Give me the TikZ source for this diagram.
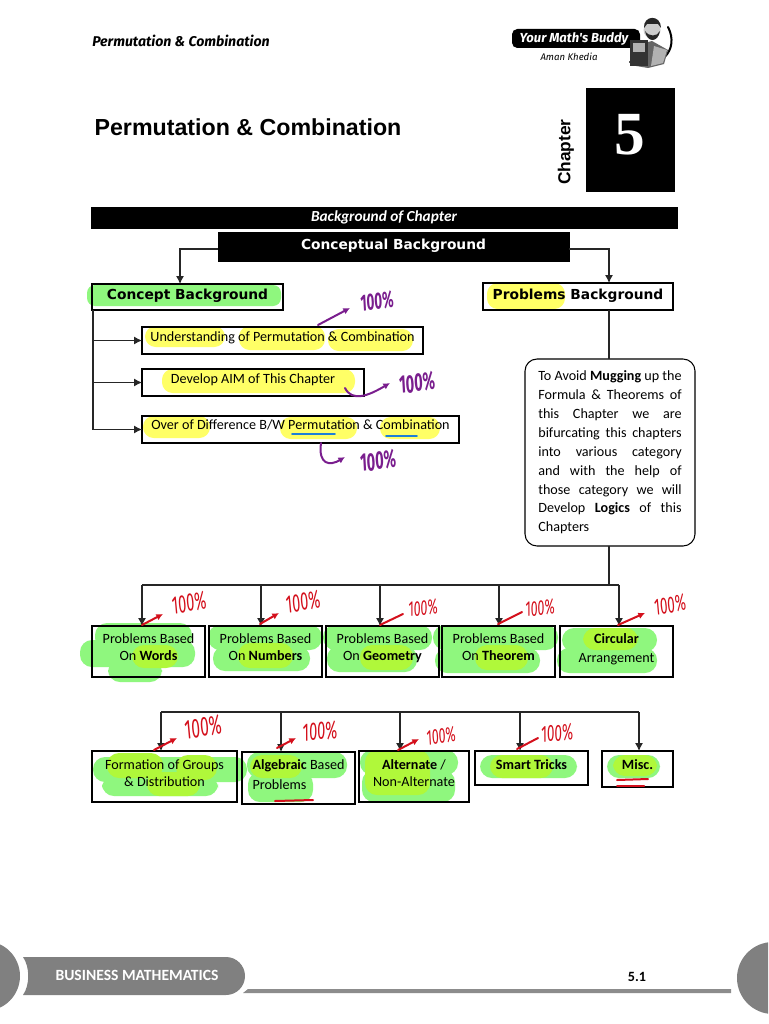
\documentclass[tikz,border=0pt]{standalone}
\usepackage{fontspec}
\usepackage{graphicx}
\setmainfont{Carlito}
\newfontfamily\arialf{Liberation Sans}
\newfontfamily\dejav{DejaVu Sans}
\newfontfamily\timesf{Liberation Serif}
\newfontfamily\handf{Fira Sans}
\usetikzlibrary{arrows.meta}
\definecolor{hlg}{HTML}{8FF77E}
\definecolor{hld}{HTML}{B0F83A}
\definecolor{hly}{HTML}{FFFF66}
\definecolor{pen}{HTML}{7A1E8E}
\definecolor{redp}{HTML}{D4101C}
\definecolor{bluep}{HTML}{1E7FD8}
\definecolor{foot}{HTML}{808080}
\tikzset{
  bx/.style={draw=black,line width=0.8pt,inner sep=0pt,outer sep=0pt,align=center,font=\fontsize{10.6pt}{12.8pt}\selectfont},
  thickbx/.style={line width=1.5pt},
  conn/.style={draw=black!85,line width=0.8pt},
  arr/.style={conn,-{Latex[length=6pt,width=6pt]}},
  redline/.style={draw=redp,line width=1.5pt,line cap=round},
  redarr/.style={redline,-{Latex[length=5pt,width=5pt]}},
  penline/.style={draw=pen,line width=1.5pt,line cap=round},
  penarr/.style={penline,-{Latex[length=5pt,width=5pt]}},
  hand/.style={inner sep=0pt,font=\handf\itshape},
  handb/.style={inner sep=0pt,font=\handf\itshape\bfseries}
}
\newcommand\bxn[7]{\node[bx,#6,minimum width={(#4-#2)*0.75pt},minimum height={(#5-#3)*0.75pt}] (#1) at ({(#2+#4)/2},{(#3+#5)/2}) {#7};}
\newcommand\drop[1]{\rule[-#1pt]{0pt}{0pt}}
\newcommand\blob[6][9pt]{\fill[#6,rounded corners=#1] (#2,#3) rectangle (#4,#5);}
\newcommand\pct[6]{\node[hand,text=#2,rotate=#5] (#1) at (#3,#4) {\fontsize{#6pt}{#6pt}\selectfont\scalebox{0.85}[1.45]{100\%}};}
\newcommand\pctb[6]{\node[handb,text=#2,rotate=#5] (#1) at (#3,#4) {\fontsize{#6pt}{#6pt}\selectfont\scalebox{0.85}[1.45]{100\%}};}
\begin{document}
\begin{tikzpicture}[x=0.75pt,y=-0.75pt]
\useasboundingbox (0,0) rectangle (768,1024);
\clip (0,0) rectangle (768,1024);
\fill[white] (0,0) rectangle (768,1024);

% highlights
\blob[6pt]{87}{285}{281}{306}{hlg}
\blob[8pt]{487}{283}{565}{309}{hly}
\blob[8pt]{145}{326}{225}{347}{hly}
\blob[8pt]{239}{326}{325}{350}{hly}
\blob[8pt]{328}{329}{413}{351}{hly}
\blob[8pt]{162}{369}{355}{393}{hly}
\blob[8pt]{143}{416}{210}{438}{hly}
\blob[8pt]{280}{417}{357}{439}{hly}
\blob[8pt]{380}{417}{440}{439}{hly}
% row 1
\blob{95}{623}{192}{650}{hlg}
\blob{80}{640}{195}{667}{hlg}
\blob{108}{660}{162}{682}{hlg}
\blob{132}{645}{178}{668}{hld}
\blob{208}{625}{322}{650}{hlg}
\blob{213}{646}{310}{671}{hlg}
\blob{238}{643}{293}{668}{hld}
\blob{323}{625}{432}{650}{hlg}
\blob{327}{646}{417}{672}{hlg}
\blob{360}{645}{413}{670}{hld}
\blob{433}{625}{558}{650}{hlg}
\blob{435}{648}{540}{673}{hlg}
\blob{475}{645}{528}{670}{hld}
\blob{562}{628}{657}{652}{hlg}
\blob{557}{648}{657}{673}{hlg}
\blob{583}{628}{638}{650}{hld}
% row 2
\blob{93}{757}{247}{782}{hlg}
\blob{102}{776}{218}{796}{hlg}
\blob{107}{753}{163}{778}{hld}
\blob{147}{772}{200}{796}{hld}
\blob{176}{755}{217}{780}{hld}
\blob{247}{752}{347}{778}{hlg}
\blob{248}{772}{313}{802}{hlg}
\blob{250}{755}{302}{778}{hld}
\blob{360}{750}{458}{775}{hlg}
\blob{362}{770}{455}{802}{hlg}
\blob{365}{750}{430}{795}{hld}
\blob{480}{755}{577}{778}{hlg}
\blob{490}{755}{553}{778}{hld}
\blob{607}{755}{660}{778}{hlg}
\blob{613}{755}{657}{776}{hld}

% header
\node[inner sep=0pt,font=\handf\itshape\bfseries\fontsize{10.6pt}{12pt}\selectfont] (hdr) at (181,41) {Permutation \& Combination};
\draw[line width=1.5pt,line cap=round] (668,27) .. controls (680,50) and (660,72) .. (630,62);
\fill[black!60] (636,66) -- (640,44) -- (652,41) -- (668,50) -- (664,64) -- (648,68) -- cycle;
\fill[white!70!black] (654,46) -- (667,50) -- (663,63) -- (651,66) -- cycle;
\fill[black,rounded corners=4pt] (512,29) rectangle (640,48);
\fill[black!80] (630,40) rectangle (648,66);
\fill[black!30] (633,43) rectangle (645,52);
\fill[black!20] (652,30) circle [radius=8.5];
\fill[black!85] (644,28) .. controls (643,15) and (661,14) .. (661,28) -- (658,24) -- (647,24) -- cycle;
\fill[black!85] (645,31) .. controls (647,43) and (658,43) .. (660,31) .. controls (657,37) and (649,37) .. cycle;
\node[inner sep=0pt,text=white,font=\handf\itshape\bfseries\fontsize{9.8pt}{10pt}\selectfont] (buddy) at (574,38.5) {Your Math's Buddy};
\node[inner sep=0pt,font=\handf\itshape\fontsize{7.2pt}{9pt}\selectfont] (aman) at (569,57) {Aman Khedia};

% title and chapter
\node[inner sep=0pt,font=\arialf\bfseries\fontsize{17.4pt}{19pt}\selectfont] (title) at (248,127) {Permutation \& Combination};
\node[inner sep=0pt,rotate=90,font=\arialf\bfseries\fontsize{13pt}{15pt}\selectfont] (chap) at (566,152) {Chapter};
\node[fill=black,inner sep=0pt,text=white,minimum width=66.75pt,minimum height=78pt,font=\timesf\bfseries\fontsize{46pt}{46pt}\selectfont] (five) at (630.5,140) {\raisebox{8pt}{\kern-1pt 5}};

% top bars
\bxn{bg}{91}{207}{677}{228}{fill=black,text=white,line width=0pt}{\fontsize{11.5pt}{13pt}\selectfont\itshape\bfseries Background of Chapter\drop{2}}
\bxn{cbg}{218}{232}{569}{261}{fill=black,text=white,line width=0pt}{\dejav\bfseries\fontsize{10.35pt}{12pt}\selectfont Conceptual Background\drop{4}}
\bxn{cb}{92}{284}{283}{310}{thickbx}{\dejav\bfseries\fontsize{10.35pt}{12pt}\selectfont Concept Background\drop{4}}
\bxn{pb}{483}{283}{673}{310}{thickbx}{\dejav\bfseries\fontsize{10.35pt}{12pt}\selectfont Problems Background\drop{4}}
\bxn{u1}{142}{327}{423}{354}{thickbx}{Understanding of Permutation \& Combination\drop{6}}
\bxn{u2}{142}{369}{364}{396}{thickbx}{Develop AIM of This Chapter\drop{6}}
\bxn{u3}{142}{416}{459}{443}{thickbx}{Over of Difference B/W Permutation \& Combination\drop{7}}

% callout
\node[draw=black,line width=0.8pt,rounded corners=9pt,inner xsep=0pt,inner ysep=0pt,outer sep=0pt,minimum width=127.5pt,minimum height=140.25pt] (call) at (610,452.5)
 {\parbox{107.5pt}{\fontsize{10.6pt}{14.15pt}\selectfont\setlength{\parfillskip}{0pt plus 1fil}\rightskip=0pt
 To Avoid \textbf{Mugging} up the\linebreak
 Formula \& Theorems of\linebreak
 this Chapter we are\linebreak
 bifurcating this chapters\linebreak
 into various category\linebreak
 and with the help of\linebreak
 those category we will\linebreak
 Develop \textbf{Logics} of this\linebreak
 Chapters}};

% row 1
\bxn{p1}{92}{626}{205}{677}{}{Problems Based\\On \textbf{Words}\drop{6}}
\bxn{p2}{209}{626}{322}{677}{}{Problems Based\\On \textbf{Numbers}\drop{6}}
\bxn{p3}{326}{626}{439}{677}{}{Problems Based\\On \textbf{Geometry}\drop{6}}
\bxn{p4}{442}{626}{555}{677}{}{Problems Based\\On \textbf{Theorem}\drop{6}}
\bxn{p5}{560}{626}{673}{677}{}{\textbf{Circular}\\[1.5pt]Arrangement\drop{5}}
% row 2
\bxn{q1}{92}{751}{237}{802}{}{Formation of Groups\\\& Distribution\drop{5}}
\bxn{q2}{242}{752}{355}{804}{thickbx,align=left}{\textbf{Algebraic} Based\\[2pt]Problems\drop{5}}
\bxn{q3}{359}{751}{469}{802}{}{\textbf{Alternate} /\\Non-Alternate\drop{5}}
\bxn{q4}{475}{751}{588}{785}{}{\textbf{Smart Tricks}\drop{5}}
\bxn{q5}{602}{751}{673}{787}{}{\textbf{Misc.}\drop{6}}

% footer
\fill[foot] (-15,976) circle [radius=35];
\fill[foot] (773,978) circle [radius=36];
\fill[foot] (23,957) -- (226,957) arc[start angle=-90,end angle=90,radius=19] -- (23,995) .. controls (30,985) and (30,967) .. cycle;
\fill[black!45] (248,989) -- (731,989) -- (731,993) -- (243,993) -- cycle;
\node[inner sep=0pt,text=white,font=\bfseries\fontsize{11.7pt}{13pt}\selectfont] (bm) at (137,975) {BUSINESS MATHEMATICS};
\node[inner sep=0pt,font=\bfseries\fontsize{10.6pt}{12pt}\selectfont] (page) at (637,977) {5.1};

% connectors
\draw[arr] (cbg.west |- 0,249) -| (cb.north -| 180,0);
\draw[arr] (cbg.east |- 0,249) -| (pb.north -| 609,0);
\draw[conn,line width=1.2pt] (cb.south west) ++(1,0) coordinate (spine) -- (spine |- u3.west) -- (u3.west);
\draw[arr] (spine |- u1.west) -- (u1.west);
\draw[arr] (spine |- u2.west) -- (u2.west);
\draw[arr] (spine |- u3.west) -- (u3.west);
\draw[conn] (pb.south -| call.north) ++(-1,0) coordinate (pdown) -- (pdown |- call.north);
\coordinate (bus1) at (609,585);
\draw[conn] (pdown |- call.south) -- (bus1);
\coordinate (b1l) at (142,585);
\coordinate (b1r) at (619,585);
\draw[conn] (b1l) -- (b1r);
\draw[arr] (b1l) -- (b1l |- p1.north);
\draw[arr] (261,585) -- (p2.north -| 261,0);
\draw[arr] (380,585) -- (p3.north -| 380,0);
\draw[arr] (499,585) -- (p4.north -| 499,0);
\draw[arr] (b1r) -- (b1r |- p5.north);
\coordinate (b2l) at (161,712);
\coordinate (b2r) at (639,712);
\draw[conn] (b2l) -- (b2r);
\draw[arr] (b2l) -- (b2l |- q1.north);
\draw[arr] (281,712) -- (q2.north -| 281,0);
\draw[arr] (400,712) -- (q3.north -| 400,0);
\draw[arr] (520,712) -- (q4.north -| 520,0);
\draw[arr] (b2r) -- (b2r |- q5.north);

% annotations
\draw[penarr] (318,325) -- (350,308);
\pctb{a1}{pen}{377}{301}{8}{12}
\draw[penarr] (345,388) .. controls (352,402) and (368,396) .. (390,383);
\pctb{a2}{pen}{417}{383}{8}{13}
\draw[penarr] (321,443) .. controls (318,465) and (330,466) .. (345,457);
\pctb{a3}{pen}{378}{461}{8}{13}
\draw[bluep,line width=1.2pt,line cap=round] (292,434) -- (335,434);
\draw[bluep,line width=1.2pt,line cap=round] (386,436) -- (417,436);

\draw[redarr] (142,625) -- (163,614);
\pct{r1}{redp}{189}{603}{10}{13}
\draw[redarr] (260,624) -- (279,613);
\pct{r2}{redp}{303}{602}{10}{13}
\draw[redline] (380,625) -- (403,614);
\pct{r3}{redp}{423}{608}{5}{11}
\draw[redline] (498,624) -- (522,612);
\pct{r4}{redp}{540}{608}{5}{11}
\draw[redarr] (618,625) -- (645,613);
\pct{r5}{redp}{670}{605}{10}{12}
\draw[redarr] (154,750) -- (177,738);
\pct{s1}{redp}{203}{727}{10}{14}
\draw[redarr] (277,748) -- (296,738);
\pct{s2}{redp}{320}{731}{5}{13}
\draw[redarr] (398,750) -- (419,739);
\pct{s3}{redp}{441}{736}{8}{11}
\draw[redline] (517,749) -- (538,738);
\pct{s4}{redp}{557}{733}{5}{12}
\draw[redline] (275,801) -- (313,800);
\draw[redline] (617,780) -- (648,779);
\draw[redline] (617,786) -- (644,786);
\end{tikzpicture}
\end{document}
